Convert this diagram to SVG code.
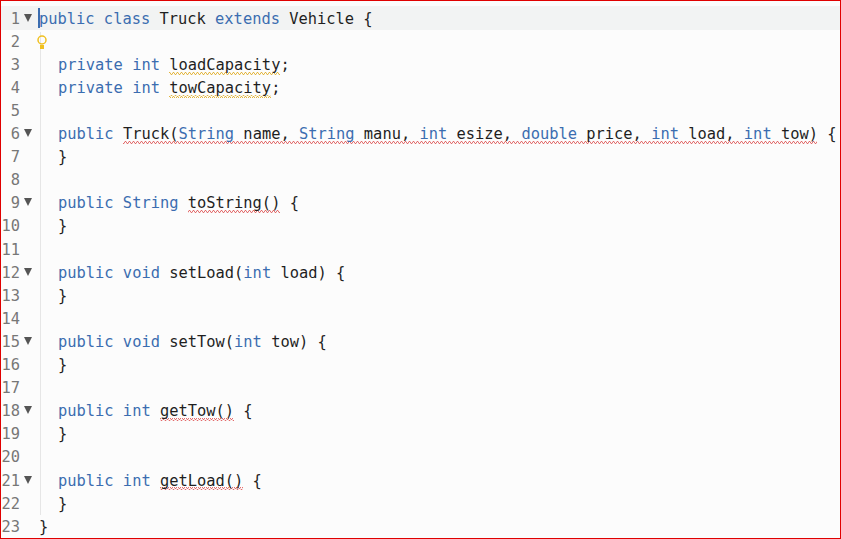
<svg xmlns="http://www.w3.org/2000/svg" width="841" height="539" viewBox="0 0 841 539">
<style>
text{font-family:"DejaVu Sans Mono","Liberation Mono",monospace;font-size:15.4px;fill:#1f1f1f;white-space:pre}
.n{fill:#777;text-anchor:end}
.k{fill:#3b6db0}
.t{fill:#555}
</style>
<defs>
<pattern id="wr" width="4" height="3" patternUnits="userSpaceOnUse"><path d="M0,2.5 L1,0.5 L2,0.5 L3,2.5 L4,2.5" fill="none" stroke="#e06060" stroke-width="0.9"/></pattern>
<pattern id="wy" width="4" height="3" patternUnits="userSpaceOnUse"><path d="M0,2.5 L1,0.5 L2,0.5 L3,2.5 L4,2.5" fill="none" stroke="#e0b030" stroke-width="0.9"/></pattern>
</defs>
<rect x="0" y="0" width="841" height="539" fill="#fcfcfc"/>
<rect x="0" y="6" width="841" height="24" fill="#f2f3f3"/>
<line x1="40.5" y1="32" x2="40.5" y2="515" stroke="#e6e6e6"/>
<rect x="38" y="8" width="2" height="20" fill="#3b6db0"/>
<g id="squiggles">
<rect x="169" y="72" width="111" height="3" fill="url(#wy)"/>
<rect x="169" y="95" width="102" height="3" fill="url(#wy)"/>
<rect x="123" y="141" width="694" height="3" fill="url(#wr)"/>
<rect x="188" y="210" width="92" height="3" fill="url(#wr)"/>
<rect x="160" y="418" width="74" height="3" fill="url(#wr)"/>
<rect x="160" y="487" width="83" height="3" fill="url(#wr)"/>
</g>
<g id="bulb"><circle cx="42" cy="40" r="4" fill="none" stroke="#f0c020" stroke-width="1.5"/><rect x="40" y="45" width="4" height="4" fill="#f0c020"/></g>
<g id="folds" fill="#555">
<path d="M24,14 L32,14 L28,22Z"/><path d="M24,129 L32,129 L28,137Z"/><path d="M24,198 L32,198 L28,206Z"/><path d="M24,268 L32,268 L28,276Z"/><path d="M24,337 L32,337 L28,345Z"/><path d="M24,406 L32,406 L28,414Z"/><path d="M24,476 L32,476 L28,484Z"/>
</g>
<g id="numbers">
<text class="n" x="20" y="23.5">1</text><text class="n" x="20" y="46.6">2</text><text class="n" x="20" y="69.7">3</text><text class="n" x="20" y="92.8">4</text><text class="n" x="20" y="115.9">5</text><text class="n" x="20" y="139">6</text><text class="n" x="20" y="162.1">7</text><text class="n" x="20" y="185.2">8</text><text class="n" x="20" y="208.3">9</text><text class="n" x="20" y="231.4">10</text><text class="n" x="20" y="254.5">11</text><text class="n" x="20" y="277.6">12</text><text class="n" x="20" y="300.7">13</text><text class="n" x="20" y="323.8">14</text><text class="n" x="20" y="346.9">15</text><text class="n" x="20" y="370">16</text><text class="n" x="20" y="393.1">17</text><text class="n" x="20" y="416.2">18</text><text class="n" x="20" y="439.3">19</text><text class="n" x="20" y="462.4">20</text><text class="n" x="20" y="485.5">21</text><text class="n" x="20" y="508.6">22</text><text class="n" x="20" y="531.7">23</text>
</g>
<g id="code">
<text x="39" y="23.5"><tspan class="k">public class</tspan> Truck <tspan class="k">extends</tspan> Vehicle {</text>
<text x="58" y="69.7"><tspan class="k">private int</tspan> loadCapacity;</text>
<text x="58" y="92.8"><tspan class="k">private int</tspan> towCapacity;</text>
<text x="58" y="139"><tspan class="k">public</tspan> Truck(<tspan class="k">String</tspan> name, <tspan class="k">String</tspan> manu, <tspan class="k">int</tspan> esize, <tspan class="k">double</tspan> price, <tspan class="k">int</tspan> load, <tspan class="k">int</tspan> tow) {</text>
<text x="58" y="162.1">}</text>
<text x="58" y="208.3"><tspan class="k">public String</tspan> toString() {</text>
<text x="58" y="231.4">}</text>
<text x="58" y="277.6"><tspan class="k">public void</tspan> setLoad(<tspan class="k">int</tspan> load) {</text>
<text x="58" y="300.7">}</text>
<text x="58" y="346.9"><tspan class="k">public void</tspan> setTow(<tspan class="k">int</tspan> tow) {</text>
<text x="58" y="370">}</text>
<text x="58" y="416.2"><tspan class="k">public int</tspan> getTow() {</text>
<text x="58" y="439.3">}</text>
<text x="58" y="485.5"><tspan class="k">public int</tspan> getLoad() {</text>
<text x="58" y="508.6">}</text>
<text x="39" y="531.7">}</text>
</g>
<rect x="0.5" y="0.5" width="840" height="538" fill="none" stroke="#e00000"/>
</svg>
